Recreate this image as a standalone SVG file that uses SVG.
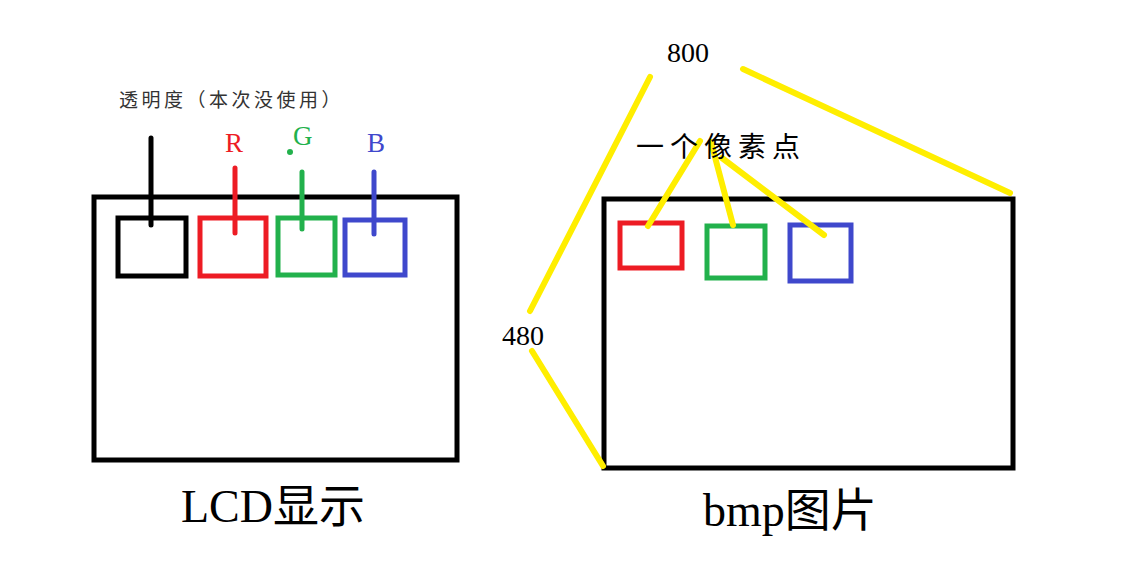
<svg xmlns="http://www.w3.org/2000/svg" width="1135" height="564" viewBox="0 0 1135 564">
<style>
.f{fill:none;stroke-width:5}
.k{stroke:#000}.r{stroke:#ed1c24}.g{stroke:#22b14c}.b{stroke:#3f48cc}
.y{stroke:#ffee00;stroke-width:6;stroke-linecap:round;fill:none}
.ln{stroke-width:5;stroke-linecap:round}
text{font-family:"Liberation Serif","Noto Sans CJK SC",serif}
</style>
<rect width="1135" height="564" fill="#fff"/>
<g id="lcd"><rect class="f k" x="94" y="197" width="363" height="263"/></g>
<g id="lcd-a"><rect class="f k" x="118" y="218" width="68" height="58"/></g>
<g id="lcd-r"><rect class="f r" x="200" y="218" width="66" height="58"/></g>
<g id="lcd-g"><rect class="f g" x="278" y="218" width="57" height="57"/></g>
<g id="lcd-b"><rect class="f b" x="345" y="220" width="60" height="55"/></g>
<g id="bmp"><rect class="f k" x="604" y="199" width="409" height="269"/></g>
<g id="bmp-r"><rect class="f r" x="620" y="223" width="62" height="45"/></g>
<g id="bmp-g"><rect class="f g" x="707" y="226" width="58" height="52"/></g>
<g id="bmp-b"><rect class="f b" x="790" y="225" width="61" height="56"/></g>
<g id="connectors">
<line class="ln k" x1="151" y1="138" x2="151" y2="225"/>
<line class="ln r" x1="235" y1="168" x2="235" y2="233"/>
<line class="ln g" x1="302" y1="172" x2="302" y2="229"/>
<line class="ln b" x1="374" y1="172" x2="374" y2="234"/>
<circle cx="290" cy="152" r="3" fill="#22b14c"/>
<line class="y" x1="650" y1="77" x2="530" y2="311"/>
<line class="y" x1="743" y1="69" x2="1010" y2="193"/>
<line class="y" x1="532" y1="351" x2="603" y2="466"/>
<line class="y" x1="700" y1="141" x2="648" y2="226"/>
<line class="y" x1="711" y1="142" x2="733" y2="225"/>
<line class="y" x1="722" y1="158" x2="824" y2="235"/>
</g>
<g font-size="27" fill="#000">
<text x="119" y="107" font-size="19" fill="#333" letter-spacing="3.5">透明度（本次没使用）</text>
<text x="225" y="152" fill="#ed1c24">R</text>
<text x="293" y="145" fill="#22b14c">G</text>
<text x="367" y="152" fill="#3f48cc">B</text>
<text x="667" y="62" font-size="28">800</text>
<text x="636" y="157" font-size="28" letter-spacing="6">一个像素点</text>
<text x="502" y="345" font-size="28">480</text>
<text x="181" y="522" font-size="46">LCD显示</text>
<text x="703" y="526" font-size="46">bmp图片</text>
</g>
</svg>
